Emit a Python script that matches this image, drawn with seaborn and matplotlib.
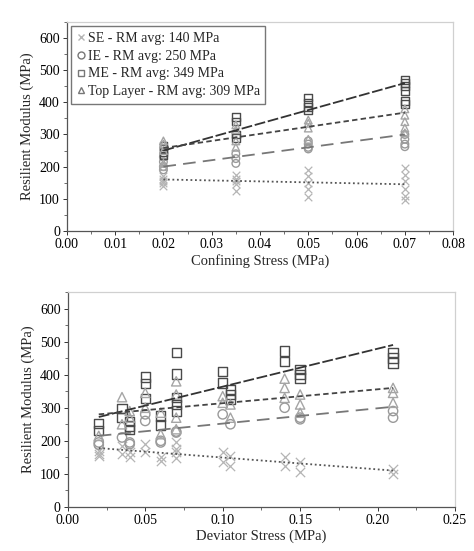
import numpy as np
import pandas as pd
import matplotlib
matplotlib.use("Agg")
import matplotlib.pyplot as plt
from matplotlib.lines import Line2D
from matplotlib.ticker import MultipleLocator
import seaborn as sns

sns.set_style("white")
plt.rcParams['font.family'] = ['Liberation Serif', 'DejaVu Serif']

layers = ["SE", "IE", "ME", "Top Layer"]
legend_labels = ["SE - RM avg: 140 MPa", "IE - RM avg: 250 MPa",
                 "ME - RM avg: 349 MPa", "Top Layer - RM avg: 309 MPa"]

# confining stress chart: values per stress level
conf_x = [0.02, 0.035, 0.05, 0.07]
conf_se = [[170, 160, 155, 150, 140], [175, 160, 155, 145, 125],
           [190, 170, 150, 130, 105], [195, 175, 155, 130, 110, 95]]
conf_ie = [[230, 215, 200, 190], [240, 225, 210], [280, 270, 260, 255],
           [300, 285, 270, 262]]
conf_me = [[265, 255, 245, 235], [355, 340, 300, 290], [415, 400, 385, 375],
           [470, 460, 450, 435, 405, 395]]
conf_top = [[280, 270, 250, 210, 200], [330, 315, 280, 260], [345, 335, 320, 285],
            [380, 360, 340, 320, 305]]
conf_trend_x = [0.02, 0.07]
conf_trend = {"SE": [160, 145], "IE": [200, 300], "ME": [250, 460], "Top Layer": [258, 368]}

# deviator stress chart
dev_x = [0.02, 0.035, 0.04, 0.05, 0.06, 0.07, 0.10, 0.105, 0.14, 0.15, 0.21]
dev_se = [[170, 160, 155], [185, 160], [165, 150], [190, 165], [150, 138],
          [195, 175, 165, 148], [165, 135], [155, 125], [150, 125], [135, 105], [115, 100]]
dev_ie = [[195, 188], [210], [195, 190], [280, 260], [200, 195], [228, 225],
          [280], [250], [300], [270, 265], [290, 270]]
dev_me = [[252, 232], [298, 270], [258, 245, 235], [393, 373, 328], [275, 248],
          [468, 402, 330, 310, 290], [410, 375], [355, 340, 325], [472, 440],
          [415, 400, 390], [468, 450, 435]]
dev_top = [[215], [332, 250], [290, 270], [345, 300], [285, 220], [380, 340, 270, 235],
           [335, 315], [310, 270], [388, 360, 330], [340, 310, 285], [360, 345, 315]]
dev_trend_x = [0.02, 0.21]
dev_trend = {"SE": [178, 110], "IE": [215, 303], "ME": [272, 490], "Top Layer": [280, 360]}

markers = {"SE": "x", "IE": "o", "ME": "s", "Top Layer": "^"}
colors = {"SE": "#b5b5b5", "IE": "#9a9a9a", "ME": "#4a4a4a", "Top Layer": "#a5a5a5"}
line_colors = {"SE": "#555555", "IE": "#777777", "ME": "#333333", "Top Layer": "#444444"}
dashes = {"SE": (1, 1.5), "IE": (7, 4), "ME": (6, 1.5), "Top Layer": (3, 1.8)}


def to_frame(xs, groups):
    rows = []
    for layer, vals in zip(layers, groups):
        for x, col in zip(xs, vals):
            for v in col:
                rows.append((x, v, layer))
    return pd.DataFrame(rows, columns=["stress", "rm", "layer"])


def draw(ax, df, tx, trend, xmax, xmajor, xminor, xlabel, size):
    for layer in layers:
        d = df[df.layer == layer]
        if markers[layer] == "x":
            sns.scatterplot(data=d, x="stress", y="rm", marker="x", color=colors[layer],
                            s=size, linewidth=0.9, ax=ax, zorder=2)
        else:
            sns.scatterplot(data=d, x="stress", y="rm", marker=markers[layer],
                            facecolor="none", edgecolor=colors[layer], s=size,
                            linewidth=1.0, ax=ax, zorder=2)
    for layer in layers:
        sns.lineplot(x=tx, y=trend[layer], color=line_colors[layer], lw=1.3,
                     dashes=False, ax=ax, zorder=3).lines[-1].set_dashes(dashes[layer])
    ax.set_xlim(0, xmax)
    ax.set_ylim(0, 650)
    ax.xaxis.set_major_locator(MultipleLocator(xmajor))
    ax.xaxis.set_minor_locator(MultipleLocator(xminor))
    ax.yaxis.set_minor_locator(MultipleLocator(50))
    ax.xaxis.set_major_formatter(plt.FuncFormatter(lambda v, p: "{:.2f}".format(v)))
    ax.set_yticks([0, 100, 200, 300, 400, 500, 600])
    ax.set_xlabel(xlabel, fontsize=10.5, labelpad=2)
    ax.set_ylabel("Resilient Modulus (MPa)", fontsize=10.5, labelpad=4)
    ax.tick_params(axis="both", which="major", direction="out", length=3, width=0.7,
                   labelsize=10, pad=2, bottom=True, left=True, colors="#333333",
                   labelcolor="black")
    ax.tick_params(axis="both", which="minor", direction="out", length=2, width=0.6,
                   bottom=True, left=True, colors="#555555")
    for side in ["left", "bottom"]:
        ax.spines[side].set_color("#555555")
        ax.spines[side].set_linewidth(0.9)
    for side in ["top", "right"]:
        ax.spines[side].set_color("#d0d0d0")
        ax.spines[side].set_linewidth(0.9)


fig = plt.figure(figsize=(4.74, 5.51), dpi=100)
ax1 = fig.add_axes([0.141, 0.581, 0.815, 0.379])
ax2 = fig.add_axes([0.143, 0.080, 0.817, 0.390])

df_conf = to_frame(conf_x, [conf_se, conf_ie, conf_me, conf_top])
df_dev = to_frame(dev_x, [dev_se, dev_ie, dev_me, dev_top])

draw(ax1, df_conf, conf_trend_x, conf_trend, 0.08, 0.01, 0.005,
     "Confining Stress (MPa)", 30)
draw(ax2, df_dev, dev_trend_x, dev_trend, 0.25, 0.05, 0.025,
     "Deviator Stress (MPa)", 45)

handles = []
for layer in layers:
    if markers[layer] == "x":
        h = Line2D([], [], marker="x", ls="none", color=colors[layer], markersize=5)
    else:
        h = Line2D([], [], marker=markers[layer], ls="none", markerfacecolor="none",
                   markeredgecolor="#777777", markersize=5)
    handles.append(h)
leg = ax1.legend(handles, legend_labels, loc="upper left", fontsize=10,
                 frameon=True, fancybox=False, edgecolor="#555555",
                 handlelength=0.6, handletextpad=0.2, borderpad=0.4,
                 labelspacing=0.35, borderaxespad=0.3)
leg.get_frame().set_linewidth(1.0)

fig.savefig("out.png", dpi=100)
